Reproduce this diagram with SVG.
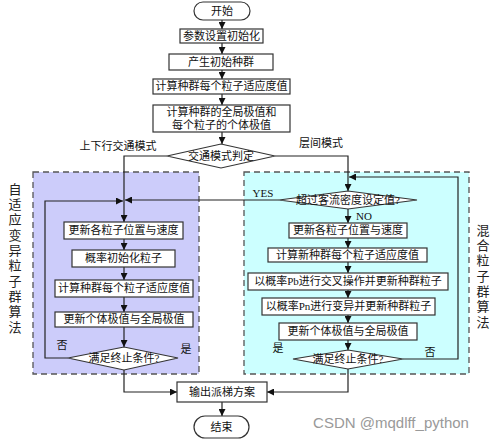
<svg xmlns="http://www.w3.org/2000/svg" width="500" height="442" viewBox="0 0 500 442">
<style>
.b{fill:#fff;stroke:#333;stroke-width:1.2}
.t{font-family:"Liberation Serif","Noto Sans CJK SC",serif;font-size:11px;fill:#111;text-anchor:middle}
.l{fill:none;stroke:#222;stroke-width:1.2}
.v{font-family:"Liberation Serif","Noto Sans CJK SC",serif;font-size:13px;fill:#222;text-anchor:middle}
</style>
<defs>
<marker id="a" viewBox="0 0 10 10" refX="10" refY="5" markerWidth="7" markerHeight="7" markerUnits="userSpaceOnUse" orient="auto">
<path d="M0,0L10,5L0,10z" fill="#111"/>
</marker>
</defs>
<rect width="500" height="442" fill="#fff"/>
<g id="regionLeft"><rect x="33" y="172" width="166" height="202" fill="#ccccfa" stroke="#555" stroke-width="1.3" stroke-dasharray="6,4"/></g>
<g id="regionRight"><rect x="244" y="172" width="225" height="202" fill="#ccffff" stroke="#555" stroke-width="1.3" stroke-dasharray="6,4"/></g>
<g id="labelLeft" class="v">
<text x="15" y="194">自</text><text x="15" y="209">适</text><text x="15" y="224">应</text><text x="15" y="240">变</text><text x="15" y="255">异</text><text x="15" y="270">粒</text><text x="15" y="286">子</text><text x="15" y="301">群</text><text x="15" y="316">算</text><text x="15" y="332">法</text>
</g>
<g id="labelRight" class="v">
<text x="483" y="235">混</text><text x="483" y="250">合</text><text x="483" y="265">粒</text><text x="483" y="281">子</text><text x="483" y="296">群</text><text x="483" y="311">算</text><text x="483" y="327">法</text>
</g>
<g id="connectors">
<path class="l" d="M222,20V29" marker-end="url(#a)"/>
<path class="l" d="M222,43V54" marker-end="url(#a)"/>
<path class="l" d="M222,70V79" marker-end="url(#a)"/>
<path class="l" d="M222,94V105" marker-end="url(#a)"/>
<path class="l" d="M222,132V144" marker-end="url(#a)"/>
<path class="l" d="M167,156H124V222" marker-end="url(#a)"/>
<path class="l" d="M275,156H348V191" marker-end="url(#a)"/>
<path class="l" d="M68,358H45V201H123" marker-end="url(#a)"/>
<path class="l" d="M279,200H125" marker-end="url(#a)"/>
<path class="l" d="M124,239V250" marker-end="url(#a)"/>
<path class="l" d="M124,267V280" marker-end="url(#a)"/>
<path class="l" d="M124,297V312" marker-end="url(#a)"/>
<path class="l" d="M124,327V347" marker-end="url(#a)"/>
<path class="l" d="M124,370V392H177" marker-end="url(#a)"/>
<path class="l" d="M348,209V223" marker-end="url(#a)"/>
<path class="l" d="M348,238V248" marker-end="url(#a)"/>
<path class="l" d="M348,262V273" marker-end="url(#a)"/>
<path class="l" d="M348,290V298" marker-end="url(#a)"/>
<path class="l" d="M348,315V323" marker-end="url(#a)"/>
<path class="l" d="M348,340V350" marker-end="url(#a)"/>
<path class="l" d="M403,359H458V177H349" marker-end="url(#a)"/>
<path class="l" d="M348,369V392H267" marker-end="url(#a)"/>
<path class="l" d="M222,402V416" marker-end="url(#a)"/>
</g>
<g id="edgeLabels" class="t">
<text x="118" y="150">上下行交通模式</text>
<text x="321" y="147">层间模式</text>
<text x="263" y="197" font-family="Liberation Serif">YES</text>
<text x="364" y="220" font-family="Liberation Serif">NO</text>
<text x="62" y="349">否</text>
<text x="186" y="353">是</text>
<text x="278" y="352">是</text>
<text x="430" y="356">否</text>
</g>
<g id="start"><rect class="b" x="194" y="2" width="56" height="18" rx="9"/><text class="t" x="222" y="15">开始</text></g>
<g id="init"><rect class="b" x="180" y="29" width="83" height="14"/><text class="t" x="221.5" y="40">参数设置初始化</text></g>
<g id="pop"><rect class="b" x="169" y="54" width="104" height="16"/><text class="t" x="221" y="66">产生初始种群</text></g>
<g id="fit"><rect class="b" x="153" y="79" width="137" height="15"/><text class="t" x="221.5" y="90">计算种群每个粒子适应度值</text></g>
<g id="best"><rect class="b" x="153" y="105" width="137" height="27"/><text class="t" x="221.5" y="116">计算种群的全局极值和</text><text class="t" x="221.5" y="129">每个粒子的个体极值</text></g>
<g id="mode"><path class="b" d="M167,156L221,144L275,156L221,168z"/><text class="t" x="221" y="160">交通模式判定</text></g>
<g id="l1"><rect class="b" x="64" y="222" width="119" height="17"/><text class="t" x="123.5" y="234">更新各粒子位置与速度</text></g>
<g id="l2"><rect class="b" x="72" y="250" width="103" height="17"/><text class="t" x="123.5" y="262">概率初始化粒子</text></g>
<g id="l3"><rect class="b" x="55" y="280" width="138" height="17"/><text class="t" x="124" y="292">计算种群每个粒子适应度值</text></g>
<g id="l4"><rect class="b" x="55" y="312" width="138" height="15"/><text class="t" x="124" y="323">更新个体极值与全局极值</text></g>
<g id="l5"><path class="b" d="M68,358L124,347L178,358L124,370z"/><text class="t" x="124" y="362">满足终止条件?</text></g>
<g id="r0"><path class="b" d="M279,200L348,191L417,200L348,209z"/><text class="t" x="348" y="204">超过客流密度设定值?</text></g>
<g id="r1"><rect class="b" x="289" y="223" width="118" height="15"/><text class="t" x="348" y="234">更新各粒子位置与速度</text></g>
<g id="r2"><rect class="b" x="268" y="248" width="159" height="14"/><text class="t" x="347.5" y="259">计算新种群每个粒子适应度值</text></g>
<g id="r3"><rect class="b" x="248" y="273" width="200" height="17"/><text class="t" x="348" y="285">以概率Pb进行交叉操作并更新种群粒子</text></g>
<g id="r4"><rect class="b" x="262" y="298" width="173" height="17"/><text class="t" x="348.5" y="310">以概率Pn进行变异并更新种群粒子</text></g>
<g id="r5"><rect class="b" x="279" y="323" width="138" height="17"/><text class="t" x="348" y="335">更新个体极值与全局极值</text></g>
<g id="r6"><path class="b" d="M293,359L348,350L403,359L348,369z"/><text class="t" x="348" y="363">满足终止条件?</text></g>
<g id="out"><rect class="b" x="177" y="382" width="90" height="20"/><text class="t" x="222" y="396">输出派梯方案</text></g>
<g id="end"><rect class="b" x="194" y="416" width="55" height="22" rx="11"/><text class="t" x="221.5" y="431">结束</text></g>
<text x="391" y="428" font-family="Liberation Sans,sans-serif" font-size="15" fill="#999" text-anchor="middle">CSDN @mqdlff_python</text>
</svg>
